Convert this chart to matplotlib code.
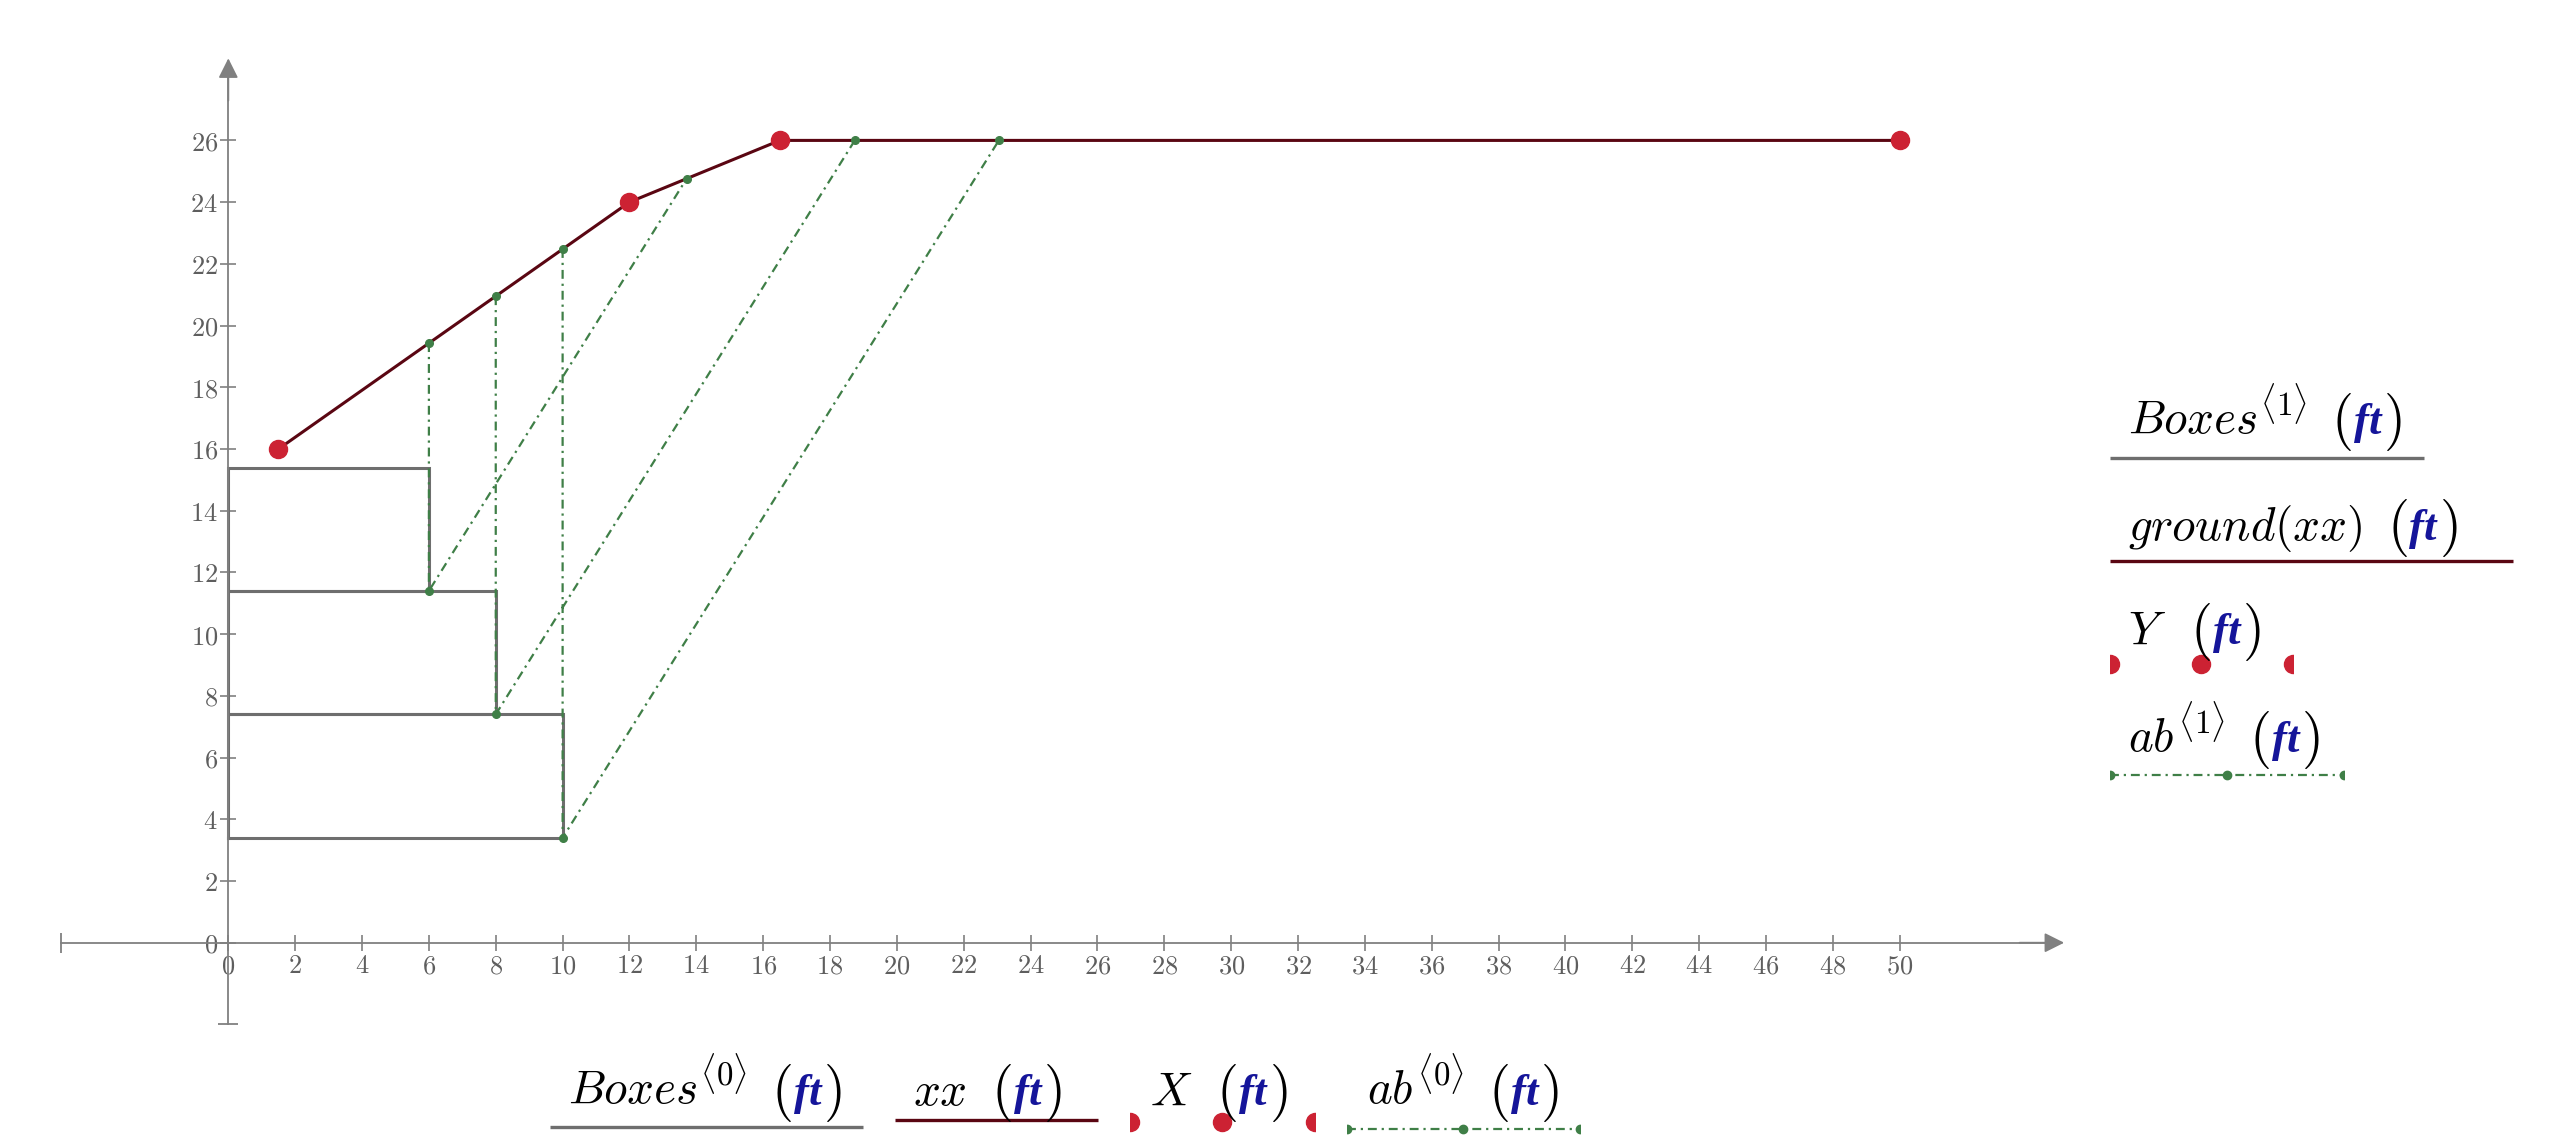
import matplotlib
matplotlib.use('Agg')
import matplotlib.pyplot as plt
from matplotlib.patches import Rectangle
import numpy as np

plt.rcParams['mathtext.fontset'] = 'cm'

# measured points (ft)
X = [1.5, 12, 16.5, 50]
Y = [16, 24, 26, 26]

# ground(xx) is the polyline through the measured points
xx = [1.5, 12, 16.5, 50]
ground = [16, 24, 26, 26]

# stacked boxes, Boxes<0> / Boxes<1>
boxes_x = [0, 10, 10, 0, 8, 8, 0, 6, 6, 0, 0]
boxes_y = [3.4, 3.4, 7.4, 7.4, 7.4, 11.4, 11.4, 11.4, 15.4, 15.4, 3.4]

# construction lines ab<0> / ab<1>
ab_x = [6, 6, 13.71, np.nan, 8, 8, 18.74, np.nan, 10, 10, 23.05]
ab_y = [19.43, 11.4, 24.76, np.nan, 20.95, 7.4, 26, np.nan, 22.48, 3.4, 26]

x_ticks = list(range(0, 52, 2))
y_ticks = list(range(0, 28, 2))

GRAY = '#6e6e6e'
AXC = '#808080'
MAROON = '#5a0612'
RED = '#cc2233'
GREEN = '#3f7f47'
BLUE = '#15159a'
DASHDOT = (0, (4, 2.2, 1, 2.2))

fig = plt.figure(figsize=(25.57, 11.47), dpi=100)
ax = fig.add_axes([0, 0, 1, 1])
ax.set_xlim(-6.83, 69.66)
ax.set_ylim(-6.62, 30.55)
ax.patch.set_alpha(0)

for s in ['top', 'right']:
    ax.spines[s].set_visible(False)
ax.spines['left'].set_position(('data', 0))
ax.spines['bottom'].set_position(('data', 0))
ax.spines['left'].set_bounds(-2.64, 28.3)
ax.spines['bottom'].set_bounds(-5.0, 54.4)
for s in ['left', 'bottom']:
    ax.spines[s].set_color(AXC)
    ax.spines[s].set_linewidth(1.3)

ax.set_xticks(x_ticks)
ax.set_xticklabels([f'${t}$' for t in x_ticks])
ax.set_yticks(y_ticks)
ax.set_yticklabels([f'${t}$' for t in y_ticks])
ax.tick_params(direction='inout', length=11, width=1.2, color=AXC,
               labelcolor='#5e5e5e', labelsize=19)
ax.tick_params(axis='x', pad=2)
ax.tick_params(axis='y', pad=2)

# axis arrows and end caps
ax.annotate('', xy=(55.0, 0), xytext=(53.5, 0),
            arrowprops=dict(arrowstyle='-|>', color=AXC, mutation_scale=30, lw=1.3))
ax.annotate('', xy=(0, 28.75), xytext=(0, 27.2),
            arrowprops=dict(arrowstyle='-|>', color=AXC, mutation_scale=30, lw=1.3))
ax.plot([-5.0], [0], marker='|', ms=14, mew=1.3, color=AXC, clip_on=False)
ax.plot([0], [-2.64], marker='_', ms=14, mew=1.3, color=AXC, clip_on=False)

# data
ax.plot(boxes_x, boxes_y, color=GRAY, lw=2.2, solid_joinstyle='miter')
ax.plot(xx, ground, color=MAROON, lw=2.2)
ax.plot(ab_x, ab_y, color=GREEN, lw=1.6, linestyle=DASHDOT,
        marker='o', ms=5.5, mec=GREEN, mfc=GREEN)
ax.plot(X, Y, linestyle='none', marker='o', ms=13, color=RED)

# legend overlay in pixel coordinates
lg = fig.add_axes([0, 0, 1, 1])
lg.set_xlim(0, 2557)
lg.set_ylim(1147, 0)
lg.axis('off')
lg.patch.set_alpha(0)

FS = 34


def label(x, y, lead):
    parts = [
        lg.text(x, y, lead, fontsize=FS, color='black', va='baseline'),
        lg.text(x, y + 3, r'$($', fontsize=FS * 1.2, color='black', va='baseline'),
        lg.text(x, y, 'ft', fontsize=FS * 0.95, color=BLUE, va='baseline',
                family='Liberation Serif', weight='bold', style='italic'),
        lg.text(x, y + 3, r'$)$', fontsize=FS * 1.2, color='black', va='baseline'),
    ]
    return parts


def sample_line(x0, x1, y, color):
    lg.plot([x0, x1], [y, y], color=color, lw=2.4, solid_capstyle='butt')


def sample_points(x0, x1, y, color, ms, line=False):
    clip = Rectangle((x0, y - 20), x1 - x0, 40, transform=lg.transData)
    if line:
        lg.plot([x0, x1], [y, y], color=color, lw=1.6, linestyle=DASHDOT)
    pts, = lg.plot([x0, (x0 + x1) / 2, x1], [y, y, y], linestyle='none',
                   marker='o', ms=ms, color=color)
    pts.set_clip_path(clip)


labels = []
labels.append(label(2128, 434, r'$Boxes^{\langle 1\rangle}$'))
sample_line(2110, 2424, 458, GRAY)
labels.append(label(2128, 540, r'$ground(xx)$'))
sample_line(2110, 2513, 561, MAROON)
labels.append(label(2128, 644, r'$Y$'))
sample_points(2110, 2293, 664, RED, 13)
labels.append(label(2128, 752, r'$ab^{\langle 1\rangle}$'))
sample_points(2110, 2344, 775, GREEN, 6, line=True)

labels.append(label(568, 1105, r'$Boxes^{\langle 0\rangle}$'))
sample_line(550, 863, 1127, GRAY)
labels.append(label(913, 1105, r'$xx$'))
sample_line(895, 1098, 1120, MAROON)
labels.append(label(1150, 1105, r'$X$'))
sample_points(1130, 1315, 1122, RED, 13)
labels.append(label(1367, 1105, r'$ab^{\langle 0\rangle}$'))
sample_points(1347, 1580, 1129, GREEN, 6, line=True)

fig.canvas.draw()
r = fig.canvas.get_renderer()
gaps = [24, 2, 2]
for parts in labels:
    for gap, prev, cur in zip(gaps, parts[:-1], parts[1:]):
        bb = prev.get_window_extent(r)
        cur.set_x(bb.x1 + gap)
        fig.canvas.draw()

fig.savefig('out.png', dpi=100)
